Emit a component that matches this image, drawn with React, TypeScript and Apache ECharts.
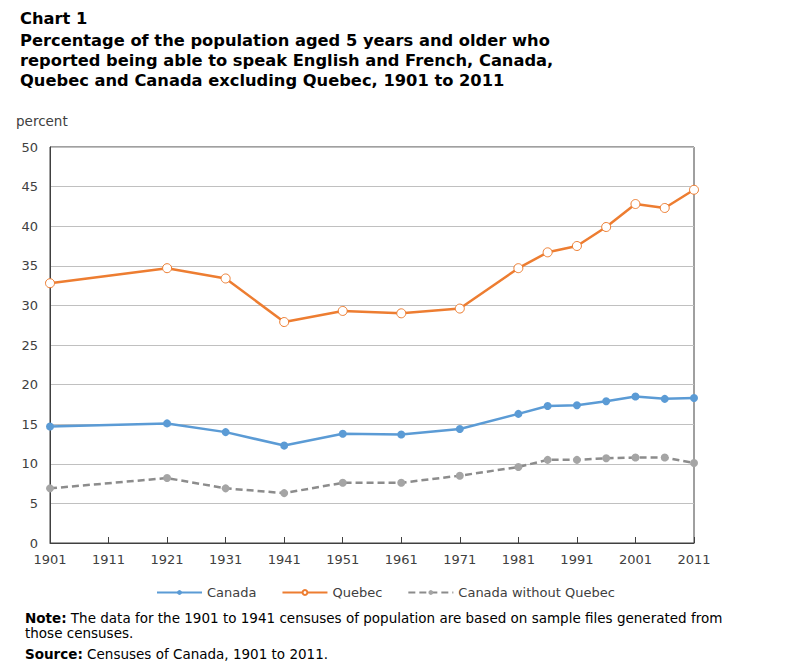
import React, { useEffect, useRef } from "react";
import * as echarts from "echarts";

// Census years and bilingualism rates (percent of population aged 5+)
const years = [1901, 1921, 1931, 1941, 1951, 1961, 1971, 1981, 1986, 1991, 1996, 2001, 2006, 2011];
const canada = [14.7, 15.1, 14.0, 12.3, 13.8, 13.7, 14.4, 16.3, 17.3, 17.4, 17.9, 18.5, 18.2, 18.3];
const quebec = [32.8, 34.7, 33.4, 27.9, 29.3, 29.0, 29.6, 34.7, 36.7, 37.5, 39.9, 42.8, 42.3, 44.6];
const canadaWithoutQuebec = [6.9, 8.2, 6.9, 6.3, 7.6, 7.6, 8.5, 9.6, 10.5, 10.5, 10.7, 10.8, 10.8, 10.1];

const seriesNames = ["Canada", "Quebec", "Canada without Quebec"];
const firstYear = 1901;
const lastYear = 2011;

const chartLabel = "Chart 1";
const titleLines = [
  "Percentage of the population aged 5 years and older who",
  "reported being able to speak English and French, Canada,",
  "Quebec and Canada excluding Quebec, 1901 to 2011",
];

const FONT = "DejaVu Sans, Verdana, sans-serif";
const AXIS_COLOR = "#404040";

// x positions are measured from the first census so ticks fall on 1901, 1911, ...
const toPoints = (values: number[]) => years.map((y, i) => [y - firstYear, values[i]]);

export default function App() {
  const ref = useRef<HTMLDivElement>(null);

  useEffect(() => {
    if (!ref.current) return;
    const chart = echarts.init(ref.current, undefined, { renderer: "svg" });
    const titleStyle = { fontFamily: FONT, fontSize: 16.3, fontWeight: "bold", fill: "#000000" };
    const noteStyle = { fontFamily: FONT, fontSize: 13.5, fill: "#000000" };
    chart.setOption({
      animation: false,
      backgroundColor: "#ffffff",
      graphic: [
        { type: "text", x: 20, y: 10, style: { ...titleStyle, text: chartLabel } },
        ...titleLines.map((t, i) => ({
          type: "text",
          x: 20,
          y: 32 + i * 20,
          style: { ...titleStyle, text: t },
        })),
        {
          type: "text",
          x: 16,
          y: 114,
          style: { text: "percent", fontFamily: FONT, fontSize: 13.5, fill: AXIS_COLOR },
        },
        {
          type: "text",
          x: 25,
          y: 611,
          style: {
            ...noteStyle,
            text: "{b|Note:} The data for the 1901 to 1941 censuses of population are based on sample files generated from",
            rich: { b: { ...noteStyle, fontWeight: "bold" } },
          },
        },
        {
          type: "text",
          x: 25,
          y: 626,
          style: { ...noteStyle, text: "those censuses." },
        },
        {
          type: "text",
          x: 25,
          y: 647,
          style: {
            ...noteStyle,
            text: "{b|Source:} Censuses of Canada, 1901 to 2011.",
            rich: { b: { ...noteStyle, fontWeight: "bold" } },
          },
        },
      ],
      legend: {
        top: 581,
        left: 151,
        itemWidth: 45,
        itemHeight: 6,
        itemGap: 25,
        data: seriesNames,
        textStyle: { fontFamily: FONT, fontSize: 13, color: AXIS_COLOR },
      },
      grid: {
        left: 50,
        right: 93,
        top: 147,
        bottom: 129,
        show: true,
        borderColor: AXIS_COLOR,
        borderWidth: 1,
        backgroundColor: "transparent",
      },
      xAxis: {
        type: "value",
        min: 0,
        max: lastYear - firstYear,
        interval: 10,
        axisLine: { show: true, lineStyle: { color: AXIS_COLOR } },
        axisTick: { show: true, inside: true, length: 6, lineStyle: { color: AXIS_COLOR } },
        axisLabel: {
          fontFamily: FONT,
          fontSize: 13,
          color: AXIS_COLOR,
          margin: 10,
          formatter: (v: number) => String(v + firstYear),
        },
        splitLine: { show: false },
      },
      yAxis: {
        type: "value",
        min: 0,
        max: 50,
        interval: 5,
        axisLine: { show: true, lineStyle: { color: AXIS_COLOR } },
        axisTick: { show: false },
        axisLabel: { fontFamily: FONT, fontSize: 13, color: AXIS_COLOR, margin: 12 },
        splitLine: { show: true, lineStyle: { color: "#c0c0c0", width: 1 } },
      },
      series: [
        {
          name: seriesNames[0],
          type: "line",
          data: toPoints(canada),
          symbol: "circle",
          symbolSize: 8,
          lineStyle: { color: "#5b9bd5", width: 2.5 },
          itemStyle: { color: "#5b9bd5" },
          z: 3,
        },
        {
          name: seriesNames[1],
          type: "line",
          data: toPoints(quebec),
          symbol: "circle",
          symbolSize: 9,
          lineStyle: { color: "#ed7d31", width: 2.5 },
          itemStyle: { color: "#ffffff", borderColor: "#ed7d31", borderWidth: 1 },
          z: 3,
        },
        {
          name: seriesNames[2],
          type: "line",
          data: toPoints(canadaWithoutQuebec),
          symbol: "circle",
          symbolSize: 8,
          lineStyle: { color: "#8c8c8c", width: 2.5, type: [7, 4] },
          itemStyle: { color: "#a5a5a5" },
          z: 2,
        },
      ],
    });
    return () => chart.dispose();
  }, []);

  return (
    <div
      ref={ref}
      style={{ position: "absolute", left: 0, top: 0, width: 787, height: 672 }}
    />
  );
}
